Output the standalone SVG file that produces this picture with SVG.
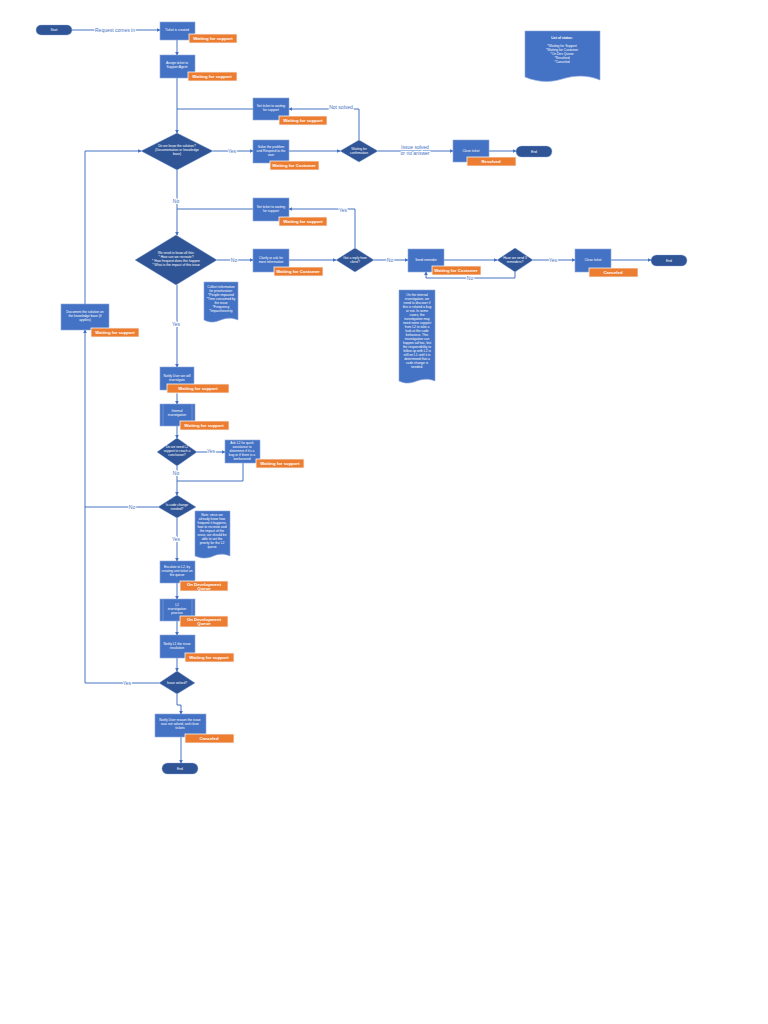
<svg xmlns="http://www.w3.org/2000/svg" width="768" height="1024" viewBox="0 0 768 1024">
<style>
.b{fill:#4472c4;stroke:#8faadc;stroke-width:0.6}
.d{fill:#2f5597;stroke:#8faadc;stroke-width:0.4}
.p{fill:#3a62ad;stroke:#8faadc;stroke-width:0.4}
.t{fill:#ed7d31;stroke:#f4f4f4;stroke-width:0.8}
text{font-family:"Liberation Sans",Arial,sans-serif}
.w{fill:#fff;font-size:3.3px;text-anchor:middle}
.o{fill:#fff;font-size:4.3px;font-weight:bold;text-anchor:middle}
.l{fill:#4472c4;font-size:5px;text-anchor:middle}
.c{fill:none;stroke:#4472c4;stroke-width:1}
</style>
<defs><marker id="a" viewBox="0 0 6 6" refX="5" refY="3" markerWidth="4" markerHeight="4" orient="auto"><path d="M0,0L6,3L0,6z" fill="#4472c4"/></marker></defs>
<g id="connectors">
<path class="c" marker-end="url(#a)" d="M72,30H160"/>
<path class="c" marker-end="url(#a)" d="M177,40V55"/>
<path class="c" marker-end="url(#a)" d="M177,78V133"/>
<path class="c" d="M253,109H177"/>
<path class="c" marker-end="url(#a)" d="M359,140V109H289"/>
<path class="c" marker-end="url(#a)" d="M213,151H253"/>
<path class="c" marker-end="url(#a)" d="M289,151H340"/>
<path class="c" marker-end="url(#a)" d="M378,151H453"/>
<path class="c" marker-end="url(#a)" d="M489,151H516"/>
<path class="c" marker-end="url(#a)" d="M177,170V235"/>
<path class="c" d="M253,209H177"/>
<path class="c" marker-end="url(#a)" d="M355,248V209H289"/>
<path class="c" marker-end="url(#a)" d="M217,260H253"/>
<path class="c" marker-end="url(#a)" d="M289,260H336"/>
<path class="c" marker-end="url(#a)" d="M374,260H408"/>
<path class="c" marker-end="url(#a)" d="M444,260H497"/>
<path class="c" marker-end="url(#a)" d="M515,272V278H426V272"/>
<path class="c" marker-end="url(#a)" d="M533,260H575"/>
<path class="c" marker-end="url(#a)" d="M611,260H651"/>
<path class="c" marker-end="url(#a)" d="M85,304V151H141"/>
<path class="c" marker-end="url(#a)" d="M177,285V367"/>
<path class="c" marker-end="url(#a)" d="M177,390V404"/>
<path class="c" marker-end="url(#a)" d="M177,426V438"/>
<path class="c" marker-end="url(#a)" d="M197,452H225"/>
<path class="c" d="M243,463V481H177"/>
<path class="c" marker-end="url(#a)" d="M177,466V495"/>
<path class="c" d="M158,507H85"/>
<path class="c" marker-end="url(#a)" d="M85,683V330"/>
<path class="c" marker-end="url(#a)" d="M177,518V561"/>
<path class="c" marker-end="url(#a)" d="M177,583V599"/>
<path class="c" marker-end="url(#a)" d="M177,621V635"/>
<path class="c" marker-end="url(#a)" d="M177,658V671"/>
<path class="c" d="M159,683H85"/>
<path class="c" marker-end="url(#a)" d="M177,694V705H181V714"/>
<path class="c" marker-end="url(#a)" d="M181,737V763"/>
<g style="paint-order:stroke" stroke="#fff" stroke-width="2">
<text class="l" x="115" y="32">Request comes in</text>
<text class="l" x="341" y="109">Not solved</text>
<text class="l" x="232" y="153">Yes</text>
<text class="l" x="415" y="149">Issue solved</text><text class="l" x="415" y="155">or no answer</text>
<text class="l" x="176" y="203">No</text>
<text class="l" x="343" y="212">Yes</text>
<text class="l" x="234" y="262">No</text>
<text class="l" x="390" y="262">No</text>
<text class="l" x="470" y="280">No</text>
<text class="l" x="553" y="262">Yes</text>
<text class="l" x="176" y="326">Yes</text>
<text class="l" x="211" y="453">Yes</text>
<text class="l" x="176" y="475">No</text>
<text class="l" x="132" y="509">No</text>
<text class="l" x="176" y="541">Yes</text>
<text class="l" x="127" y="685">Yes</text>
</g>
</g>
<g id="start"><rect class="d" x="36" y="25" width="36" height="10" rx="5"/><text class="w" x="54" y="31">Start</text></g>
<g id="ticket"><rect class="b" x="160" y="22" width="35" height="18"/><text class="w" x="177" y="31">Ticket is created</text><rect class="t" x="189" y="34" width="48" height="9"/><text class="o" x="213" y="40">Waiting for support</text></g>
<g id="assign"><rect class="b" x="160" y="55" width="35" height="23"/><text class="w" x="177" y="64">Assign ticket to<tspan x="177" dy="4">Support Agent</tspan></text><rect class="t" x="188" y="72" width="49" height="9"/><text class="o" x="212" y="78">Waiting for support</text></g>
<g id="setwait1"><rect class="b" x="253" y="98" width="36" height="22"/><text class="w" x="271" y="107">Set ticket to waiting<tspan x="271" dy="4">for support</tspan></text><rect class="t" x="279" y="116" width="48" height="9"/><text class="o" x="303" y="122">Waiting for support</text></g>
<g id="know"><path class="d" d="M177,133L213,151L177,170L141,151z"/><text class="w" x="177" y="147">Do we know the solution?<tspan x="177" dy="4">(Documentation or knowledge</tspan><tspan x="177" dy="4">base)</tspan></text></g>
<g id="solve"><rect class="b" x="253" y="140" width="36" height="23"/><text class="w" x="271" y="148">Solve the problem<tspan x="271" dy="4">and Respond to the</tspan><tspan x="271" dy="4">user</tspan></text><rect class="t" x="270" y="161" width="49" height="9"/><text class="o" x="294" y="167">Waiting for Customer</text></g>
<g id="confirm"><path class="d" d="M359,140L378,151L359,162L340,151z"/><text class="w" x="359" y="150">Waiting for<tspan x="359" dy="4">confirmation</tspan></text></g>
<g id="close1"><rect class="b" x="453" y="140" width="36" height="22"/><text class="w" x="471" y="152">Close ticket</text><rect class="t" x="467" y="157" width="49" height="9"/><text class="o" x="491" y="163">Resolved</text></g>
<g id="end1"><rect class="d" x="516" y="146" width="36" height="11" rx="5.5"/><text class="w" x="534" y="152.5">End</text></g>
<g id="status"><path class="b" d="M525,31H600V80C588,75 575,75 562,79C550,83 537,82 525,77z"/><text class="w" x="562" y="39" font-weight="bold">List of status:</text><text class="w" x="562" y="47">*Waiting for Support<tspan x="562" dy="4">*Waiting for Customer</tspan><tspan x="562" dy="4">*On Dev Queue</tspan><tspan x="562" dy="4">*Resolved</tspan><tspan x="562" dy="4">*Canceled</tspan></text></g>
<g id="setwait2"><rect class="b" x="253" y="198" width="36" height="23"/><text class="w" x="271" y="208">Set ticket to waiting<tspan x="271" dy="4">for support</tspan></text><rect class="t" x="279" y="217" width="48" height="9"/><text class="o" x="303" y="223">Waiting for support</text></g>
<g id="needknow"><path class="d" d="M176,235L217,260L176,285L135,260z"/><text class="w" x="176" y="254">We need to know all this:<tspan x="176" dy="4">* How can we recreate?</tspan><tspan x="176" dy="4">* How frequent does this happen</tspan><tspan x="176" dy="4">* What is the impact of this issue</tspan></text></g>
<g id="clarify"><rect class="b" x="253" y="249" width="36" height="23"/><text class="w" x="271" y="259">Clarify or ask for<tspan x="271" dy="4">more information</tspan></text><rect class="t" x="274" y="267" width="49" height="9"/><text class="o" x="298" y="273">Waiting for Customer</text></g>
<g id="reply"><path class="d" d="M355,248L374,260L355,272L336,260z"/><text class="w" x="355" y="259">Got a reply from<tspan x="355" dy="4">client?</tspan></text></g>
<g id="reminder"><rect class="b" x="408" y="249" width="36" height="23"/><text class="w" x="426" y="261">Send reminder</text><rect class="t" x="432" y="266" width="49" height="9"/><text class="o" x="456" y="272">Waiting for Customer</text></g>
<g id="three"><path class="d" d="M515,248L533,260L515,272L497,260z"/><text class="w" x="515" y="259">Have we send 3<tspan x="515" dy="4">reminders?</tspan></text></g>
<g id="close2"><rect class="b" x="575" y="249" width="36" height="23"/><text class="w" x="593" y="261">Close ticket</text><rect class="t" x="589" y="268" width="49" height="9"/><text class="o" x="613" y="274">Canceled</text></g>
<g id="end2"><rect class="d" x="651" y="255" width="36" height="11" rx="5.5"/><text class="w" x="669" y="261.5">End</text></g>
<g id="collect"><path class="b" d="M204,282H238V320C231,317 225,318 218,321C213,323 208,322 204,320z"/><text class="w" x="221" y="288">Collect information<tspan x="221" dy="4">for prioritization:</tspan><tspan x="221" dy="4">*People impacted</tspan><tspan x="221" dy="4">*Time consumed by</tspan><tspan x="221" dy="4">the issue</tspan><tspan x="221" dy="4">*Frequency</tspan><tspan x="221" dy="4">*Impact/severity</tspan></text></g>
<g id="internalnote"><path class="b" d="M399,290H435V381C428,378 421,379 414,382C408,384 403,383 399,381z"/><text class="w" x="417" y="296">On the internal<tspan x="417" dy="4">investigation, we</tspan><tspan x="417" dy="4">need to discover if</tspan><tspan x="417" dy="4">this is related a bug</tspan><tspan x="417" dy="4">or not. In some</tspan><tspan x="417" dy="4">cases, the</tspan><tspan x="417" dy="4">investigation may</tspan><tspan x="417" dy="4">need some support</tspan><tspan x="417" dy="4">from L2 to take a</tspan><tspan x="417" dy="4">look at the code</tspan><tspan x="417" dy="4">behaviour. This</tspan><tspan x="417" dy="4">investigation can</tspan><tspan x="417" dy="4">happen ad hoc, but</tspan><tspan x="417" dy="4">the responsibility to</tspan><tspan x="417" dy="4">follow up with L2 is</tspan><tspan x="417" dy="4">still on L1 until it is</tspan><tspan x="417" dy="4">determined that a</tspan><tspan x="417" dy="4">code change is</tspan><tspan x="417" dy="4">needed.</tspan></text></g>
<g id="document"><rect class="b" x="61" y="304" width="48" height="26"/><text class="w" x="85" y="313">Document the solution on<tspan x="85" dy="4">the knowledge base (if</tspan><tspan x="85" dy="4">applies)</tspan></text><rect class="t" x="91" y="328" width="48" height="9"/><text class="o" x="115" y="334">Waiting for support</text></g>
<g id="notify"><rect class="b" x="160" y="367" width="34" height="23"/><text class="w" x="177" y="377">Notify User we will<tspan x="177" dy="4">investigate</tspan></text><rect class="t" x="167" y="384" width="62" height="9"/><text class="o" x="198" y="390">Waiting for support</text></g>
<g id="internal"><rect class="b" x="160" y="404" width="35" height="22"/><path d="M163,404V426M192,404V426" stroke="#8faadc" stroke-width="0.6"/><text class="w" x="177" y="412">Internal<tspan x="177" dy="4">investigation</tspan></text><rect class="t" x="180" y="421" width="49" height="9"/><text class="o" x="204" y="427">Waiting for support</text></g>
<g id="needl2"><path class="d" d="M177,438L197,452L177,466L157,452z"/><text class="w" x="177" y="448">Do we need L2<tspan x="177" dy="4">support to reach a</tspan><tspan x="177" dy="4">conclusion?</tspan></text></g>
<g id="askl2"><rect class="b" x="225" y="440" width="35" height="23"/><text class="w" x="242" y="444">Ask L2 for quick<tspan x="242" dy="4">assistance to</tspan><tspan x="242" dy="4">determine if it's a</tspan><tspan x="242" dy="4">bug or if there is a</tspan><tspan x="242" dy="4">workaround</tspan></text><rect class="t" x="256" y="459" width="48" height="9"/><text class="o" x="280" y="465">Waiting for support</text></g>
<g id="codechange"><path class="d" d="M177,495L196,507L177,518L158,507z"/><text class="w" x="177" y="506">Is code change<tspan x="177" dy="4">needed?</tspan></text></g>
<g id="note"><path class="b" d="M195,511H230V556C223,553 217,554 211,557C205,559 200,558 195,556z"/><text class="w" x="212" y="516">Note: since we<tspan x="212" dy="4">already know how</tspan><tspan x="212" dy="4">frequent it happens,</tspan><tspan x="212" dy="4">how to recreate and</tspan><tspan x="212" dy="4">the impact of the</tspan><tspan x="212" dy="4">issue, we should be</tspan><tspan x="212" dy="4">able to set the</tspan><tspan x="212" dy="4">priority for the L2</tspan><tspan x="212" dy="4">queue</tspan></text></g>
<g id="escalate"><rect class="b" x="160" y="561" width="35" height="22"/><text class="w" x="177" y="568">Escalate to L2, by<tspan x="177" dy="4">creating unit ticket on</tspan><tspan x="177" dy="4">the queue</tspan></text><rect class="t" x="180" y="581" width="48" height="10"/><text class="o" x="204" y="585.5">On Development<tspan x="204" dy="4.3">Queue</tspan></text></g>
<g id="l2inv"><rect class="b" x="160" y="599" width="35" height="22"/><path d="M163,599V621M192,599V621" stroke="#8faadc" stroke-width="0.6"/><text class="w" x="177" y="606">L2<tspan x="177" dy="4">investigation</tspan><tspan x="177" dy="4">process</tspan></text><rect class="t" x="180" y="616" width="48" height="11"/><text class="o" x="204" y="621">On Development<tspan x="204" dy="4.3">Queue</tspan></text></g>
<g id="notifyl1"><rect class="b" x="160" y="635" width="35" height="23"/><text class="w" x="177" y="645">Notify L1 the issue<tspan x="177" dy="4">resolution</tspan></text><rect class="t" x="185" y="653" width="49" height="9"/><text class="o" x="209" y="659">Waiting for support</text></g>
<g id="solved"><path class="d" d="M177,671L195,683L177,694L159,683z"/><text class="w" x="177" y="684">Issue solved?</text></g>
<g id="notifyuser"><rect class="b" x="155" y="714" width="51" height="23"/><text class="w" x="180" y="721">Notify User reason the issue<tspan x="180" dy="4">was not solved, and close</tspan><tspan x="180" dy="4">tickets</tspan></text><rect class="t" x="185" y="734" width="49" height="9"/><text class="o" x="209" y="740">Canceled</text></g>
<g id="end3"><rect class="d" x="162" y="763" width="36" height="11" rx="5.5"/><text class="w" x="180" y="769.5">End</text></g>
</svg>
